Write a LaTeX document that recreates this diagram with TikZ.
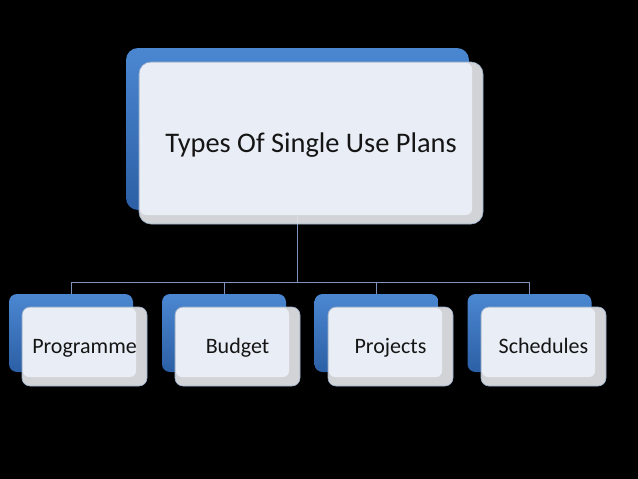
\documentclass[tikz,border=0pt]{standalone}
\usepackage{fontspec}
\setmainfont{Carlito}
\usetikzlibrary{backgrounds}
\definecolor{backtop}{HTML}{4B87D1}
\definecolor{backbot}{HTML}{2C5FA5}
\definecolor{frontgrey}{HTML}{E3E4E7}
\definecolor{frontlight}{HTML}{EBF0F8}
\definecolor{frontborder}{HTML}{9AAFCB}
\definecolor{linkcol}{HTML}{7F93BE}
\definecolor{txt}{HTML}{151515}
\tikzset{
  backbox/.style={rectangle, inner sep=0pt, outer sep=0pt, draw=none,
    top color=backtop, bottom color=backbot},
  frontbox/.style={rectangle, inner sep=0pt, outer sep=0pt, draw=frontborder, line width=0.6pt,
    fill=frontgrey, fill opacity=0.93, text opacity=1, text=txt,
    font=\fontsize{22}{26}\selectfont, text height=17pt, text depth=4pt,
    path picture={\fill[rounded corners=6pt, frontlight]
      ([shift={(1pt,-1pt)}]path picture bounding box.north west) rectangle
      ([shift={(-11pt,9pt)}]path picture bounding box.south east);}},
  topsize/.style={minimum width=343pt, minimum height=162pt, rounded corners=12pt},
  childsize/.style={minimum width=124pt, minimum height=78pt, rounded corners=8pt},
  link/.style={draw=linkcol, line width=0.8pt}
}
\begin{document}
\begin{tikzpicture}[x=1pt, y=-1pt]
\useasboundingbox (0,0) rectangle (638,479);
% back boxes
\node[backbox, topsize] (topback) at (297.5,129) {};
\node[backbox, childsize] (c1back) at (71,333) {};
\node[backbox, childsize] (c2back) at (224,333) {};
\node[backbox, childsize] (c3back) at (376.5,333) {};
\node[backbox, childsize] (c4back) at (529.5,333) {};
% front boxes
\node[frontbox, topsize, minimum width=344pt, font=\fontsize{28.4}{32}\selectfont,
  text height=24pt, text depth=6pt] (top) at (311,143) {Types Of Single Use Plans};
\node[frontbox, childsize, minimum width=125pt, minimum height=79pt] (c1) at (84.5,346.5) {Programme};
\node[frontbox, childsize, minimum width=125pt, minimum height=79pt] (c2) at (237.5,346.5) {Budget};
\node[frontbox, childsize, minimum width=125pt, minimum height=79pt] (c3) at (390.5,346.5) {Projects};
\node[frontbox, childsize, minimum width=125pt, minimum height=79pt] (c4) at (543.5,346.5) {Schedules};
\coordinate (bus) at (297.5,282);
\begin{pgfonlayer}{background}
\fill[black] (0,0) rectangle (638,479);
\draw[link] (topback.south) -- (bus);
\draw[link] (bus) -| (c1back.north);
\draw[link] (bus) -| (c2back.north);
\draw[link] (bus) -| (c3back.north);
\draw[link] (bus) -| (c4back.north);
\end{pgfonlayer}
\end{tikzpicture}
\end{document}
